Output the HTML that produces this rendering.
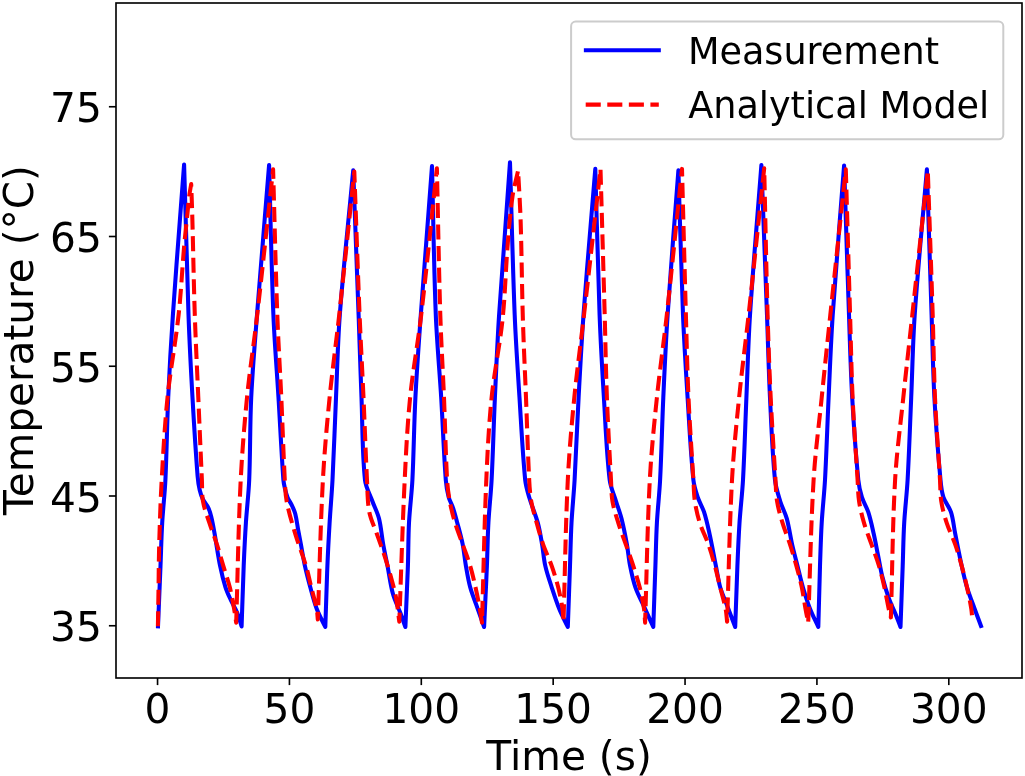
<!DOCTYPE html>
<html><head><meta charset="utf-8"><title>Temperature vs Time</title>
<style>
html,body{margin:0;padding:0;background:#fff;}
body{width:1025px;height:776px;overflow:hidden;}
svg{display:block;}
text{font-family:"DejaVu Sans","Liberation Sans",sans-serif;fill:#000;}
</style></head>
<body>
<svg width="1025" height="776" viewBox="0 0 1025 776">
<rect x="0" y="0" width="1025" height="776" fill="#fff"/>
<defs><clipPath id="ax"><rect x="116" y="3" width="906" height="675"/></clipPath></defs>
<g clip-path="url(#ax)">
<path d="M158.00,626.30 C158.83,606.17 159.68,586.03 160.50,565.90 C161.08,551.57 161.38,537.22 162.20,522.90 C163.02,508.59 164.71,494.32 165.40,480.00 C166.71,452.55 166.95,425.05 168.20,397.60 C169.45,370.05 171.02,342.51 172.90,315.00 C176.32,264.81 180.37,214.67 184.10,164.50 C185.57,214.67 186.69,264.85 188.50,315.00 C189.49,342.55 190.94,370.08 192.50,397.60 C193.98,423.75 195.57,449.90 197.60,476.00 C197.97,480.70 198.65,485.42 199.70,490.00 C200.45,493.25 201.55,496.51 203.00,499.50 C204.38,502.34 206.85,504.65 208.20,507.50 C209.62,510.48 210.51,513.77 211.30,517.00 C212.64,522.50 213.60,528.12 214.60,533.70 C216.53,544.42 217.93,555.24 220.10,565.90 C221.57,573.10 223.30,580.30 225.50,587.30 C226.90,591.73 228.96,595.97 230.90,600.20 C232.89,604.53 235.51,608.59 237.30,613.00 C239.07,617.36 240.17,622.00 241.60,626.50 C242.30,606.30 242.86,586.09 243.70,565.90 C244.30,551.56 244.98,537.22 245.90,522.90 C246.82,508.59 248.59,494.32 249.20,480.00 C250.36,452.56 249.90,425.04 251.20,397.60 C252.50,370.04 254.88,342.52 257.00,315.00 C260.85,264.99 265.07,215.00 269.10,165.00 C270.53,215.00 271.38,265.03 273.40,315.00 C274.51,342.56 276.83,370.06 278.50,397.60 C280.16,425.06 281.43,452.57 283.40,480.00 C283.63,483.14 284.37,486.24 285.10,489.30 C285.77,492.07 286.49,494.88 287.60,497.50 C288.79,500.32 290.70,502.82 292.00,505.60 C293.27,508.32 294.56,511.10 295.30,514.00 C296.63,519.23 297.22,524.67 298.20,530.00 C299.08,534.80 300.00,539.60 300.90,544.40 C302.24,551.57 303.34,558.78 304.90,565.90 C306.47,573.08 308.35,580.21 310.30,587.30 C312.28,594.51 314.06,601.83 316.70,608.80 C319.06,615.06 322.43,620.93 325.30,627.00 C326.00,606.63 326.56,586.26 327.40,565.90 C327.99,551.56 328.75,537.23 329.60,522.90 C330.45,508.59 331.77,494.31 332.50,480.00 C333.90,452.55 334.78,425.06 336.00,397.60 C337.22,370.06 337.72,342.48 339.80,315.00 C343.45,266.74 348.73,218.60 353.20,170.40 C355.00,218.60 356.84,266.80 358.60,315.00 C359.61,342.53 360.43,370.07 361.50,397.60 C362.57,425.07 362.13,452.86 365.00,480.00 C365.79,487.49 369.91,494.37 372.50,501.50 C374.58,507.23 377.53,512.71 379.00,518.60 C381.10,527.01 381.66,535.83 383.20,544.40 C384.49,551.59 386.09,558.73 387.50,565.90 C389.33,575.20 390.41,584.70 392.90,593.80 C394.71,600.40 397.98,606.57 400.40,613.00 C402.15,617.64 403.73,622.33 405.40,627.00 C406.23,606.63 407.20,586.27 407.90,565.90 C408.40,551.57 408.25,537.21 409.00,522.90 C409.75,508.58 411.67,494.32 412.40,480.00 C413.80,452.56 414.00,425.05 415.40,397.60 C416.80,370.05 418.83,342.52 420.80,315.00 C424.36,265.35 428.27,215.73 432.00,166.10 C433.27,215.73 433.83,265.40 435.80,315.00 C436.90,342.57 439.53,370.06 441.20,397.60 C442.86,425.06 443.74,452.59 445.80,480.00 C446.24,485.79 447.26,491.60 448.70,497.20 C449.66,500.90 451.78,504.26 453.00,507.90 C454.65,512.83 455.96,517.87 457.30,522.90 C459.20,530.04 461.25,537.16 462.70,544.40 C464.12,551.50 464.65,558.76 465.90,565.90 C467.15,573.06 468.27,580.30 470.20,587.30 C472.21,594.60 475.19,601.64 477.70,608.80 C479.83,614.87 481.97,620.93 484.10,627.00 C485.03,606.63 486.06,586.27 486.90,565.90 C487.49,551.57 487.62,537.22 488.40,522.90 C489.18,508.58 490.86,494.32 491.60,480.00 C493.02,452.55 493.65,425.06 494.90,397.60 C496.15,370.06 497.34,342.51 499.10,315.00 C502.37,264.04 506.37,213.13 510.00,162.20 C511.57,213.13 512.65,264.09 514.70,315.00 C515.81,342.56 517.75,370.08 519.50,397.60 C521.25,425.08 522.54,452.65 525.20,480.00 C525.77,485.85 527.54,491.56 529.20,497.20 C531.74,505.86 535.42,514.20 537.80,522.90 C539.72,529.94 540.84,537.20 542.10,544.40 C543.34,551.54 543.72,558.85 545.30,565.90 C546.92,573.15 549.41,580.22 551.70,587.30 C554.04,594.52 556.35,601.78 559.20,608.80 C561.72,615.01 564.93,620.93 567.80,627.00 C568.53,606.63 569.28,586.27 570.00,565.90 C570.51,551.57 570.73,537.22 571.50,522.90 C572.27,508.59 573.79,494.31 574.60,480.00 C576.16,452.55 577.12,425.06 578.60,397.60 C580.09,370.06 581.49,342.51 583.50,315.00 C587.06,266.27 591.37,217.60 595.30,168.90 C596.73,217.60 597.77,266.32 599.60,315.00 C600.64,342.55 602.22,370.08 603.90,397.60 C605.58,425.08 606.50,452.76 609.70,480.00 C610.57,487.40 613.91,494.35 616.10,501.50 C617.85,507.22 620.04,512.81 621.50,518.60 C623.64,527.11 625.33,535.76 626.90,544.40 C628.20,551.53 628.69,558.80 630.10,565.90 C631.53,573.10 632.98,580.39 635.40,587.30 C637.98,594.69 641.87,601.63 645.10,608.80 C647.84,614.87 650.57,620.93 653.30,627.00 C654.00,606.63 654.70,586.27 655.40,565.90 C655.90,551.57 656.12,537.22 656.90,522.90 C657.68,508.58 659.37,494.32 660.10,480.00 C661.50,452.55 662.05,425.06 663.30,397.60 C664.55,370.06 665.77,342.51 667.60,315.00 C670.81,266.77 674.80,218.60 678.40,170.40 C679.93,218.60 681.05,266.82 683.00,315.00 C684.12,342.55 685.87,370.08 687.60,397.60 C689.33,425.08 690.63,452.67 693.40,480.00 C693.99,485.87 695.84,491.61 697.70,497.20 C699.41,502.34 702.43,507.04 704.10,512.20 C706.37,519.21 707.91,526.49 709.50,533.70 C711.85,544.39 713.76,555.17 715.90,565.90 C717.32,573.04 718.25,580.32 720.20,587.30 C721.85,593.18 724.53,598.77 726.70,604.50 C729.53,612.00 732.37,619.50 735.20,627.00 C735.93,606.63 736.56,586.26 737.40,565.90 C737.99,551.56 738.57,537.22 739.50,522.90 C740.43,508.58 742.21,494.32 743.00,480.00 C744.51,452.56 745.23,425.07 746.40,397.60 C747.57,370.07 748.23,342.50 750.00,315.00 C753.23,264.97 757.60,215.00 761.40,165.00 C763.27,215.00 765.15,265.00 767.00,315.00 C768.02,342.53 768.67,370.08 770.00,397.60 C771.33,425.08 772.29,452.69 775.00,480.00 C775.73,487.33 778.15,494.45 780.30,501.50 C782.08,507.32 785.19,512.74 786.80,518.60 C789.12,527.04 790.16,535.84 792.10,544.40 C793.73,551.61 795.70,558.73 797.50,565.90 C799.30,573.03 800.84,580.24 802.90,587.30 C805.01,594.54 807.27,601.77 810.00,608.80 C812.41,615.01 815.53,620.93 818.30,627.00 C818.87,606.63 819.33,586.26 820.00,565.90 C820.47,551.56 820.87,537.22 821.70,522.90 C822.53,508.58 824.21,494.32 825.00,480.00 C826.51,452.55 827.32,425.06 828.60,397.60 C829.89,370.06 830.86,342.50 832.70,315.00 C836.03,265.14 840.30,215.33 844.10,165.50 C845.73,215.33 847.26,265.17 849.00,315.00 C849.96,342.54 850.65,370.09 852.20,397.60 C853.75,425.09 855.63,452.62 858.30,480.00 C858.87,485.82 860.17,491.63 861.90,497.20 C863.50,502.37 866.63,507.04 868.30,512.20 C870.57,519.21 872.07,526.49 873.70,533.70 C875.30,540.79 876.57,547.97 878.00,555.10 C879.44,562.27 880.53,569.52 882.30,576.60 C884.10,583.82 886.23,590.99 888.70,598.00 C890.50,603.12 893.05,607.97 895.10,613.00 C896.98,617.63 898.70,622.33 900.50,627.00 C901.23,606.63 901.98,586.27 902.70,565.90 C903.21,551.57 903.38,537.22 904.20,522.90 C905.02,508.58 906.80,494.32 907.60,480.00 C909.13,452.55 910.02,425.07 911.20,397.60 C912.38,370.07 912.81,342.49 914.70,315.00 C918.04,266.39 922.83,217.87 926.90,169.30 C928.47,217.87 930.00,266.43 931.60,315.00 C932.50,342.53 932.92,370.10 934.40,397.60 C935.88,425.10 938.02,452.59 940.50,480.00 C941.02,485.79 941.62,491.74 943.40,497.20 C945.12,502.47 949.29,506.92 951.00,512.20 C953.23,519.08 953.77,526.54 955.20,533.70 C957.34,544.44 959.35,555.21 961.70,565.90 C963.28,573.08 964.89,580.27 967.00,587.30 C969.19,594.57 972.01,601.65 974.60,608.80 C976.68,614.55 978.87,620.27 981.00,626.00" fill="none" stroke="#0000ff" stroke-width="4.07" stroke-linejoin="round" stroke-linecap="square"/>
<path d="M157.90,626.30 C158.10,614.20 158.31,602.10 158.50,590.00 C158.74,574.80 158.76,559.59 159.20,544.40 C159.82,522.93 160.49,501.45 161.70,480.00 C163.25,452.51 164.70,424.98 167.50,397.60 C170.33,369.98 175.56,342.60 178.60,315.00 C181.06,292.67 182.06,270.19 184.00,247.80 C184.89,237.49 186.06,227.20 187.10,216.90 C187.80,210.00 188.34,203.08 189.20,196.20 C189.71,192.11 190.53,188.07 191.20,184.00 C191.57,194.97 192.00,205.93 192.30,216.90 C193.20,249.60 193.71,282.31 194.80,315.00 C195.71,342.54 197.12,370.07 198.30,397.60 C199.48,425.07 200.66,452.54 201.90,480.00 C202.22,487.17 201.77,494.48 203.00,501.50 C204.27,508.78 207.11,515.82 209.40,522.90 C211.74,530.12 214.57,537.18 216.90,544.40 C219.20,551.51 221.15,558.74 223.30,565.90 C225.45,573.04 227.98,580.08 229.80,587.30 C231.58,594.38 232.80,601.61 234.10,608.80 C234.93,613.41 235.50,618.07 236.20,622.70 C237.63,576.57 238.29,530.39 240.50,484.30 C241.89,455.36 244.16,426.43 247.00,397.60 C249.72,370.00 254.05,342.56 257.20,315.00 C262.75,266.46 267.80,217.87 273.10,169.30 C274.50,217.87 275.56,266.45 277.30,315.00 C278.29,342.55 280.05,370.06 281.30,397.60 C282.55,425.06 283.37,452.55 284.80,480.00 C285.17,487.18 285.34,494.46 286.70,501.50 C288.80,512.36 292.01,523.07 295.20,533.70 C298.45,544.54 302.75,555.07 306.00,565.90 C308.11,572.93 309.52,580.17 311.30,587.30 C313.09,594.47 315.24,601.57 316.70,608.80 C317.41,612.31 317.43,615.93 317.80,619.50 C319.50,573.00 320.43,526.45 322.90,480.00 C324.36,452.49 326.89,425.02 329.60,397.60 C332.32,370.02 336.19,342.55 339.20,315.00 C344.42,267.19 349.27,219.33 354.30,171.50 C356.07,219.33 357.65,267.17 359.60,315.00 C360.72,342.54 362.27,370.06 363.50,397.60 C364.73,425.06 365.61,452.55 367.00,480.00 C367.54,490.75 367.38,501.70 369.30,512.20 C370.65,519.60 374.29,526.54 376.80,533.70 C379.29,540.84 381.96,547.92 384.30,555.10 C386.62,562.22 388.82,569.38 390.80,576.60 C392.75,583.68 394.74,590.79 396.10,598.00 C397.57,605.82 398.23,613.80 399.30,621.70 C401.10,574.47 402.42,527.21 404.70,480.00 C406.02,452.51 407.36,424.97 410.10,397.60 C412.86,369.97 417.98,342.59 421.20,315.00 C426.91,266.12 431.67,217.13 436.90,168.20 C438.03,217.13 438.79,266.08 440.30,315.00 C441.15,342.55 442.87,370.06 444.00,397.60 C445.13,425.06 445.57,452.57 447.10,480.00 C447.50,487.21 448.48,494.41 449.80,501.50 C451.14,508.71 452.99,515.87 455.10,522.90 C457.29,530.17 460.18,537.23 462.70,544.40 C465.21,551.56 468.03,558.63 470.20,565.90 C472.30,572.93 473.90,580.13 475.50,587.30 C477.10,594.43 478.48,601.61 479.80,608.80 C480.65,613.41 481.27,618.07 482.00,622.70 C483.43,575.13 484.27,527.54 486.30,480.00 C487.47,452.51 488.83,424.96 491.60,397.60 C494.23,371.63 499.78,345.96 502.50,320.00 C505.18,294.36 505.72,268.51 507.80,242.80 C509.05,227.31 510.31,211.77 512.50,196.40 C513.74,187.70 516.23,179.20 518.10,170.60 C518.93,186.93 520.07,203.26 520.60,219.60 C521.67,253.06 521.88,286.54 522.90,320.00 C523.68,345.87 524.98,371.73 526.00,397.60 C527.08,425.07 527.80,452.56 529.20,480.00 C529.57,487.19 530.06,494.43 531.30,501.50 C532.56,508.73 534.75,515.81 536.70,522.90 C538.68,530.11 540.64,537.35 543.10,544.40 C545.64,551.68 549.14,558.63 551.70,565.90 C554.17,572.93 556.38,580.08 558.20,587.30 C559.98,594.38 561.39,601.59 562.50,608.80 C563.16,613.06 563.17,617.40 563.50,621.70 C564.93,574.47 565.53,527.19 567.80,480.00 C569.13,452.49 571.61,425.02 574.30,397.60 C577.01,370.02 580.84,342.54 584.00,315.00 C589.58,266.31 595.00,217.60 600.50,168.90 C601.90,217.60 603.34,266.30 604.70,315.00 C605.47,342.53 605.85,370.08 606.90,397.60 C607.95,425.08 609.52,452.54 611.00,480.00 C611.39,487.17 611.30,494.45 612.50,501.50 C613.73,508.75 616.11,515.85 618.30,522.90 C620.55,530.15 623.30,537.23 625.80,544.40 C628.30,551.57 630.96,558.68 633.30,565.90 C635.59,572.98 637.90,580.08 639.70,587.30 C641.47,594.38 642.90,601.59 644.00,608.80 C644.70,613.39 644.73,618.07 645.10,622.70 C646.67,575.13 647.31,527.51 649.80,480.00 C651.24,452.48 654.07,425.02 656.90,397.60 C659.74,370.02 663.77,342.56 666.80,315.00 C672.14,266.33 676.93,217.60 682.00,168.90 C683.30,217.60 684.52,266.30 685.90,315.00 C686.68,342.54 687.25,370.08 688.50,397.60 C689.75,425.08 691.71,452.54 693.40,480.00 C693.84,487.17 693.84,494.42 694.90,501.50 C695.98,508.72 697.61,515.94 699.80,522.90 C702.11,530.24 705.84,537.12 708.40,544.40 C710.88,551.46 712.92,558.68 714.90,565.90 C716.85,572.98 718.42,580.17 720.20,587.30 C721.99,594.47 724.15,601.57 725.60,608.80 C726.45,613.04 726.60,617.40 727.10,621.70 C728.73,574.47 729.47,527.18 732.00,480.00 C733.47,452.48 736.34,425.03 739.10,397.60 C741.87,370.03 745.59,342.55 748.60,315.00 C753.95,266.08 759.00,217.13 764.20,168.20 C765.33,217.13 766.21,266.07 767.60,315.00 C768.38,342.54 769.38,370.08 770.70,397.60 C772.02,425.08 773.81,452.54 775.50,480.00 C775.94,487.17 775.95,494.43 777.10,501.50 C778.28,508.73 780.38,515.86 782.50,522.90 C784.68,530.16 787.67,537.18 790.00,544.40 C792.30,551.51 794.42,558.69 796.40,565.90 C798.35,572.99 800.27,580.11 801.80,587.30 C803.31,594.41 804.21,601.64 805.50,608.80 C806.34,613.44 807.30,618.07 808.20,622.70 C810.00,575.13 810.75,527.50 813.60,480.00 C815.25,452.46 818.92,425.06 821.70,397.60 C824.49,370.06 827.39,342.53 830.30,315.00 C835.43,266.43 840.63,217.87 845.80,169.30 C847.23,217.87 848.65,266.43 850.10,315.00 C850.92,342.53 851.35,370.09 852.60,397.60 C853.85,425.09 855.88,452.54 857.60,480.00 C858.05,487.17 858.04,494.42 859.10,501.50 C860.18,508.72 861.97,515.88 864.00,522.90 C866.10,530.18 869.00,537.23 871.50,544.40 C874.00,551.57 876.82,558.64 879.00,565.90 C881.12,572.94 882.78,580.13 884.40,587.30 C886.01,594.43 887.16,601.66 888.70,608.80 C889.32,611.69 890.17,614.53 890.90,617.40 C892.30,571.60 892.52,525.72 895.10,480.00 C896.65,452.46 900.44,425.05 903.30,397.60 C906.17,370.05 909.33,342.54 912.30,315.00 C917.50,266.80 922.63,218.60 927.80,170.40 C929.43,218.60 931.17,266.80 932.70,315.00 C933.57,342.53 933.78,370.09 935.00,397.60 C936.22,425.09 938.33,452.53 940.00,480.00 C940.43,487.17 940.20,494.44 941.30,501.50 C942.43,508.74 944.44,515.92 946.70,522.90 C949.07,530.22 952.66,537.13 955.20,544.40 C957.66,551.46 959.72,558.68 961.70,565.90 C963.65,572.98 965.40,580.13 967.00,587.30 C968.60,594.43 970.13,601.59 971.30,608.80 C971.93,612.69 972.03,616.67 972.40,620.60" fill="none" stroke="#ff0000" stroke-width="4.07" stroke-linejoin="round" stroke-linecap="butt" stroke-dasharray="15.06 6.51"/>
</g>
<rect x="116" y="3" width="906" height="675" fill="none" stroke="#000" stroke-width="1.63" stroke-linejoin="miter"/>
<g stroke="#000" stroke-width="1.63">
<line x1="157.55" y1="678" x2="157.55" y2="685.1" />
<line x1="289.43" y1="678" x2="289.43" y2="685.1" />
<line x1="421.30" y1="678" x2="421.30" y2="685.1" />
<line x1="553.17" y1="678" x2="553.17" y2="685.1" />
<line x1="685.05" y1="678" x2="685.05" y2="685.1" />
<line x1="816.92" y1="678" x2="816.92" y2="685.1" />
<line x1="948.80" y1="678" x2="948.80" y2="685.1" />
<line x1="108.9" y1="625.75" x2="116" y2="625.75" />
<line x1="108.9" y1="496.00" x2="116" y2="496.00" />
<line x1="108.9" y1="366.25" x2="116" y2="366.25" />
<line x1="108.9" y1="236.50" x2="116" y2="236.50" />
<line x1="108.9" y1="106.75" x2="116" y2="106.75" />
</g>
<g font-size="40.7">
<text x="157.55" y="723.2" text-anchor="middle">0</text>
<text x="289.43" y="723.2" text-anchor="middle">50</text>
<text x="421.30" y="723.2" text-anchor="middle">100</text>
<text x="553.17" y="723.2" text-anchor="middle">150</text>
<text x="685.05" y="723.2" text-anchor="middle">200</text>
<text x="816.92" y="723.2" text-anchor="middle">250</text>
<text x="948.80" y="723.2" text-anchor="middle">300</text>
<text x="101.8" y="641.35" text-anchor="end">35</text>
<text x="101.8" y="511.60" text-anchor="end">45</text>
<text x="101.8" y="381.85" text-anchor="end">55</text>
<text x="101.8" y="252.10" text-anchor="end">65</text>
<text x="101.8" y="122.35" text-anchor="end">75</text>
<text x="569.1" y="769.9" text-anchor="middle">Time (s)</text>
<text transform="translate(33.3,340.1) rotate(-90)" text-anchor="middle" font-size="40.55">Temperature (°C)</text>
</g>
<g>
<rect x="571.1" y="21.6" width="432.2" height="117.7" rx="4.6" ry="4.6" fill="#fff" fill-opacity="0.8" stroke="#cccccc" stroke-width="2"/>
<line x1="585.9" y1="50.3" x2="658.8" y2="50.3" stroke="#0000ff" stroke-width="4.07" stroke-linecap="square"/>
<line x1="585.7" y1="104.6" x2="658.8" y2="104.6" stroke="#ff0000" stroke-width="4.07" stroke-dasharray="15.06 6.51"/>
<text x="687.9" y="63.7" font-size="36.6">Measurement</text>
<text x="688.2" y="117.7" font-size="36.6">Analytical Model</text>
</g>
</svg>
</body></html>
